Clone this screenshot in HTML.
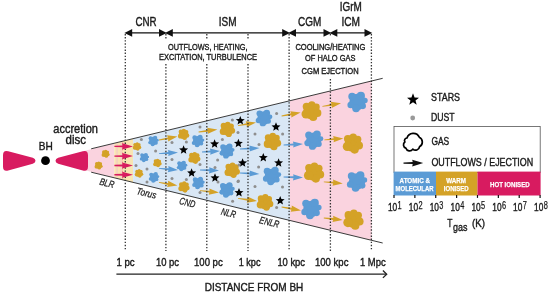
<!DOCTYPE html>
<html lang="en"><head><meta charset="utf-8"><title>AGN feedback scales</title>
<style>html,body{margin:0;padding:0;background:#fff}svg{display:block}</style></head>
<body>
<svg width="550" height="295" viewBox="0 0 550 295" font-family='"Liberation Sans", sans-serif'>
<rect width="550" height="295" fill="#fff"/>
<polygon points="84,151.04 114.3,143.21 114.3,177.81 84,169.95" fill="#FAD3DF"/>
<polygon points="114.3,143.21 133.1,138.67 133.1,182.38 114.3,177.81" fill="#F8E5B2"/>
<polygon points="133.1,138.67 290,100.72 290,220.48 133.1,182.38" fill="#D9E7F5"/>
<polygon points="290,100.72 371.6,80.98 371.6,240.3 290,220.48" fill="#FAD3DF"/>
<rect x="116.3" y="143.23" width="1.5" height="34.57" fill="#F5BFCB" opacity="0.6"/>
<rect x="120.3" y="142.26" width="1.5" height="36.51" fill="#F5BFCB" opacity="0.6"/>
<g fill="#D4A227"><circle cx="105.6" cy="153.8" r="3.3"/><circle cx="103.62" cy="151.9" r="1.57"/><circle cx="105.76" cy="151.25" r="1.52"/><circle cx="107.62" cy="152.07" r="1.4"/><circle cx="108.07" cy="154.54" r="1.61"/><circle cx="106.34" cy="156.19" r="1.65"/><circle cx="103.42" cy="154.95" r="1.85"/></g>
<g fill="#D4A227"><circle cx="98.6" cy="165.5" r="3.3"/><circle cx="96.62" cy="163.6" r="1.57"/><circle cx="98.76" cy="162.95" r="1.52"/><circle cx="100.62" cy="163.77" r="1.4"/><circle cx="101.07" cy="166.24" r="1.61"/><circle cx="99.34" cy="167.89" r="1.65"/><circle cx="96.42" cy="166.65" r="1.85"/></g>
<g fill="#D4A227"><circle cx="137" cy="146.6" r="3.46"/><circle cx="134.92" cy="144.61" r="1.64"/><circle cx="137.17" cy="143.92" r="1.6"/><circle cx="139.12" cy="144.78" r="1.47"/><circle cx="139.6" cy="147.38" r="1.69"/><circle cx="137.78" cy="149.11" r="1.73"/><circle cx="134.71" cy="147.81" r="1.95"/></g>
<g fill="#5B9BD5"><circle cx="153.4" cy="141" r="4.24"/><circle cx="155.15" cy="137.82" r="2.12"/><circle cx="150.59" cy="138.19" r="1.96"/><circle cx="157.32" cy="140.2" r="1.38"/><circle cx="156.21" cy="143.12" r="1.59"/><circle cx="152.66" cy="144.29" r="2.02"/><circle cx="149.85" cy="142.59" r="1.7"/></g>
<g fill="#5B9BD5"><circle cx="144.4" cy="157.6" r="3.75"/><circle cx="145.95" cy="154.78" r="1.88"/><circle cx="141.91" cy="155.11" r="1.74"/><circle cx="147.87" cy="156.9" r="1.22"/><circle cx="146.89" cy="159.48" r="1.41"/><circle cx="143.74" cy="160.51" r="1.78"/><circle cx="141.26" cy="159.01" r="1.5"/></g>
<g fill="#D4A227"><circle cx="157.4" cy="163" r="3.46"/><circle cx="155.32" cy="161.01" r="1.64"/><circle cx="157.57" cy="160.32" r="1.6"/><circle cx="159.52" cy="161.18" r="1.47"/><circle cx="160" cy="163.78" r="1.69"/><circle cx="158.18" cy="165.51" r="1.73"/><circle cx="155.11" cy="164.21" r="1.95"/></g>
<g fill="#D4A227"><circle cx="139" cy="173.4" r="3.46"/><circle cx="136.92" cy="171.41" r="1.64"/><circle cx="139.17" cy="170.72" r="1.6"/><circle cx="141.12" cy="171.58" r="1.47"/><circle cx="141.6" cy="174.18" r="1.69"/><circle cx="139.78" cy="175.91" r="1.73"/><circle cx="136.71" cy="174.61" r="1.95"/></g>
<g fill="#5B9BD5"><circle cx="154" cy="177.4" r="4.24"/><circle cx="155.75" cy="174.22" r="2.12"/><circle cx="151.19" cy="174.59" r="1.96"/><circle cx="157.92" cy="176.6" r="1.38"/><circle cx="156.81" cy="179.52" r="1.59"/><circle cx="153.26" cy="180.69" r="2.02"/><circle cx="150.45" cy="178.99" r="1.7"/></g>
<g fill="#D4A227"><circle cx="183.6" cy="134.4" r="4.61"/><circle cx="180.83" cy="131.75" r="2.19"/><circle cx="183.83" cy="130.82" r="2.13"/><circle cx="186.43" cy="131.98" r="1.96"/><circle cx="187.06" cy="135.44" r="2.25"/><circle cx="184.64" cy="137.75" r="2.31"/><circle cx="180.54" cy="136.02" r="2.6"/></g>
<g fill="#5B9BD5"><circle cx="198" cy="141" r="5.06"/><circle cx="200.09" cy="137.21" r="2.53"/><circle cx="194.65" cy="137.65" r="2.34"/><circle cx="202.68" cy="140.05" r="1.64"/><circle cx="201.35" cy="143.53" r="1.9"/><circle cx="197.11" cy="144.92" r="2.4"/><circle cx="193.76" cy="142.9" r="2.02"/></g>
<g fill="#D4A227"><circle cx="194.4" cy="158" r="4.94"/><circle cx="191.43" cy="155.16" r="2.35"/><circle cx="194.65" cy="154.17" r="2.29"/><circle cx="197.43" cy="155.4" r="2.1"/><circle cx="198.11" cy="159.11" r="2.41"/><circle cx="195.51" cy="161.58" r="2.47"/><circle cx="191.12" cy="159.73" r="2.78"/></g>
<g fill="#5B9BD5"><circle cx="182" cy="166" r="4.24"/><circle cx="183.75" cy="162.82" r="2.12"/><circle cx="179.19" cy="163.19" r="1.96"/><circle cx="185.92" cy="165.2" r="1.38"/><circle cx="184.81" cy="168.12" r="1.59"/><circle cx="181.26" cy="169.29" r="2.02"/><circle cx="178.45" cy="167.59" r="1.7"/></g>
<g fill="#D4A227"><circle cx="184" cy="187" r="4.61"/><circle cx="181.23" cy="184.35" r="2.19"/><circle cx="184.23" cy="183.42" r="2.13"/><circle cx="186.83" cy="184.58" r="1.96"/><circle cx="187.46" cy="188.04" r="2.25"/><circle cx="185.04" cy="190.35" r="2.31"/><circle cx="180.94" cy="188.62" r="2.6"/></g>
<g fill="#5B9BD5"><circle cx="198.4" cy="183" r="5.06"/><circle cx="200.49" cy="179.21" r="2.53"/><circle cx="195.05" cy="179.65" r="2.34"/><circle cx="203.08" cy="182.05" r="1.64"/><circle cx="201.75" cy="185.53" r="1.9"/><circle cx="197.51" cy="186.92" r="2.4"/><circle cx="194.16" cy="184.9" r="2.02"/></g>
<g fill="#D4A227"><circle cx="227.4" cy="129.4" r="6.26"/><circle cx="223.64" cy="125.8" r="2.97"/><circle cx="227.71" cy="124.55" r="2.9"/><circle cx="231.24" cy="126.11" r="2.66"/><circle cx="232.1" cy="130.81" r="3.05"/><circle cx="228.81" cy="133.94" r="3.13"/><circle cx="223.25" cy="131.59" r="3.52"/></g>
<g fill="#5B9BD5"><circle cx="227" cy="151" r="6.04"/><circle cx="229.49" cy="146.47" r="3.02"/><circle cx="223" cy="147" r="2.79"/><circle cx="232.59" cy="149.87" r="1.96"/><circle cx="231" cy="154.02" r="2.26"/><circle cx="225.94" cy="155.68" r="2.87"/><circle cx="221.94" cy="153.26" r="2.42"/></g>
<g fill="#D4A227"><circle cx="232.2" cy="170.3" r="6.26"/><circle cx="228.44" cy="166.7" r="2.97"/><circle cx="232.51" cy="165.45" r="2.9"/><circle cx="236.04" cy="167.01" r="2.66"/><circle cx="236.9" cy="171.71" r="3.05"/><circle cx="233.61" cy="174.84" r="3.13"/><circle cx="228.05" cy="172.49" r="3.52"/></g>
<g fill="#5B9BD5"><circle cx="227" cy="190" r="6.2"/><circle cx="229.56" cy="185.35" r="3.1"/><circle cx="222.89" cy="185.89" r="2.87"/><circle cx="232.74" cy="188.84" r="2.02"/><circle cx="231.11" cy="193.1" r="2.33"/><circle cx="225.91" cy="194.81" r="2.95"/><circle cx="221.81" cy="192.33" r="2.48"/></g>
<g fill="#5B9BD5"><circle cx="264" cy="118" r="6.69"/><circle cx="266.76" cy="112.98" r="3.35"/><circle cx="259.57" cy="113.57" r="3.09"/><circle cx="270.19" cy="116.75" r="2.17"/><circle cx="268.43" cy="121.35" r="2.51"/><circle cx="262.83" cy="123.19" r="3.18"/><circle cx="258.4" cy="120.51" r="2.68"/></g>
<g fill="#D4A227"><circle cx="272.4" cy="141.6" r="7.09"/><circle cx="268.15" cy="137.53" r="3.37"/><circle cx="272.75" cy="136.11" r="3.28"/><circle cx="276.74" cy="137.88" r="3.01"/><circle cx="277.71" cy="143.19" r="3.45"/><circle cx="273.99" cy="146.74" r="3.54"/><circle cx="267.71" cy="144.08" r="3.99"/></g>
<g fill="#5B9BD5"><circle cx="272" cy="176" r="7.34"/><circle cx="275.03" cy="170.49" r="3.67"/><circle cx="267.13" cy="171.13" r="3.4"/><circle cx="278.79" cy="174.62" r="2.39"/><circle cx="276.87" cy="179.67" r="2.75"/><circle cx="270.71" cy="181.69" r="3.49"/><circle cx="265.85" cy="178.75" r="2.94"/></g>
<g fill="#D4A227"><circle cx="265" cy="202.4" r="6.76"/><circle cx="260.95" cy="198.51" r="3.21"/><circle cx="265.34" cy="197.16" r="3.13"/><circle cx="269.14" cy="198.85" r="2.87"/><circle cx="270.07" cy="203.92" r="3.29"/><circle cx="266.52" cy="207.3" r="3.38"/><circle cx="260.52" cy="204.76" r="3.8"/></g>
<g fill="#D4A227"><circle cx="311.4" cy="111.2" r="8.08"/><circle cx="306.55" cy="106.56" r="3.84"/><circle cx="311.8" cy="104.94" r="3.73"/><circle cx="316.35" cy="106.96" r="3.43"/><circle cx="317.46" cy="113.02" r="3.94"/><circle cx="313.22" cy="117.05" r="4.04"/><circle cx="306.05" cy="114.03" r="4.54"/></g>
<g fill="#5B9BD5"><circle cx="313.8" cy="140.2" r="7.67"/><circle cx="316.96" cy="134.45" r="3.84"/><circle cx="308.72" cy="135.12" r="3.55"/><circle cx="320.9" cy="138.76" r="2.49"/><circle cx="318.88" cy="144.04" r="2.88"/><circle cx="312.46" cy="146.14" r="3.64"/><circle cx="307.38" cy="143.08" r="3.07"/></g>
<g fill="#D4A227"><circle cx="314" cy="172.6" r="8.24"/><circle cx="309.06" cy="167.86" r="3.91"/><circle cx="314.41" cy="166.21" r="3.81"/><circle cx="319.05" cy="168.27" r="3.5"/><circle cx="320.18" cy="174.45" r="4.02"/><circle cx="315.85" cy="178.57" r="4.12"/><circle cx="308.54" cy="175.48" r="4.64"/></g>
<g fill="#5B9BD5"><circle cx="311.4" cy="209" r="8.16"/><circle cx="314.77" cy="202.88" r="4.08"/><circle cx="305.99" cy="203.59" r="3.77"/><circle cx="318.95" cy="207.47" r="2.65"/><circle cx="316.81" cy="213.08" r="3.06"/><circle cx="309.97" cy="215.32" r="3.88"/><circle cx="304.57" cy="212.06" r="3.26"/></g>
<g fill="#5B9BD5"><circle cx="357.5" cy="102" r="8.16"/><circle cx="360.87" cy="95.88" r="4.08"/><circle cx="352.09" cy="96.59" r="3.77"/><circle cx="365.05" cy="100.47" r="2.65"/><circle cx="362.91" cy="106.08" r="3.06"/><circle cx="356.07" cy="108.32" r="3.88"/><circle cx="350.67" cy="105.06" r="3.26"/></g>
<g fill="#D4A227"><circle cx="352.8" cy="143.6" r="8.24"/><circle cx="347.86" cy="138.86" r="3.91"/><circle cx="353.21" cy="137.21" r="3.81"/><circle cx="357.85" cy="139.27" r="3.5"/><circle cx="358.98" cy="145.45" r="4.02"/><circle cx="354.65" cy="149.57" r="4.12"/><circle cx="347.34" cy="146.48" r="4.64"/></g>
<g fill="#5B9BD5"><circle cx="357" cy="181.5" r="8.16"/><circle cx="360.37" cy="175.38" r="4.08"/><circle cx="351.59" cy="176.09" r="3.77"/><circle cx="364.55" cy="179.97" r="2.65"/><circle cx="362.41" cy="185.58" r="3.06"/><circle cx="355.57" cy="187.82" r="3.88"/><circle cx="350.17" cy="184.56" r="3.26"/></g>
<g fill="#D4A227"><circle cx="353.4" cy="219.7" r="8.24"/><circle cx="348.46" cy="214.96" r="3.91"/><circle cx="353.81" cy="213.31" r="3.81"/><circle cx="358.45" cy="215.37" r="3.5"/><circle cx="359.58" cy="221.55" r="4.02"/><circle cx="355.25" cy="225.67" r="4.12"/><circle cx="347.94" cy="222.58" r="4.64"/></g>
<polygon transform="translate(159 140) rotate(-10.47)" points="0,-0.4 9.21,-0.95 8.71,-3.1 18.71,0 8.71,3.1 9.21,0.95 0,0.4" fill="#D4A227"/>
<polygon transform="translate(159 153.6) rotate(-3.61)" points="0,-0.4 9.54,-0.95 9.04,-3.1 19.04,0 9.04,3.1 9.54,0.95 0,0.4" fill="#5B9BD5"/>
<polygon transform="translate(159 168.4) rotate(4.81)" points="0,-0.4 9.57,-0.95 9.07,-3.1 19.07,0 9.07,3.1 9.57,0.95 0,0.4" fill="#5B9BD5"/>
<polygon transform="translate(159 182.4) rotate(9.87)" points="0,-0.4 9.18,-0.95 8.68,-3.1 18.68,0 8.68,3.1 9.18,0.95 0,0.4" fill="#D4A227"/>
<polygon transform="translate(198.6 132) rotate(-7.87)" points="0,-0.4 9.48,-0.95 8.98,-3.1 18.98,0 8.98,3.1 9.48,0.95 0,0.4" fill="#D4A227"/>
<polygon transform="translate(202 152) rotate(-3.18)" points="0,-0.4 8.53,-0.95 8.03,-3.1 18.03,0 8.03,3.1 8.53,0.95 0,0.4" fill="#5B9BD5"/>
<polygon transform="translate(200 170) rotate(1.81)" points="0,-0.4 9.51,-0.95 9.01,-3.1 19.01,0 9.01,3.1 9.51,0.95 0,0.4" fill="#5B9BD5"/>
<polygon transform="translate(200 190.6) rotate(6.01)" points="0,-0.4 9.6,-0.95 9.1,-3.1 19.1,0 9.1,3.1 9.6,0.95 0,0.4" fill="#D4A227"/>
<polygon transform="translate(238 125.6) rotate(-9.46)" points="0,-0.4 8.75,-0.95 8.25,-3.1 18.25,0 8.25,3.1 8.75,0.95 0,0.4" fill="#D4A227"/>
<polygon transform="translate(240 149) rotate(-2.95)" points="0,-0.4 9.93,-0.95 9.43,-3.1 19.43,0 9.43,3.1 9.93,0.95 0,0.4" fill="#5B9BD5"/>
<polygon transform="translate(240 173) rotate(2.95)" points="0,-0.4 9.93,-0.95 9.43,-3.1 19.43,0 9.43,3.1 9.93,0.95 0,0.4" fill="#5B9BD5"/>
<polygon transform="translate(238 198.4) rotate(7.79)" points="0,-0.4 9.68,-0.95 9.18,-3.1 19.18,0 9.18,3.1 9.68,0.95 0,0.4" fill="#D4A227"/>
<polygon transform="translate(281.6 116) rotate(-10.15)" points="0,-0.4 9.8,-0.95 9.3,-3.1 19.3,0 9.3,3.1 9.8,0.95 0,0.4" fill="#D4A227"/>
<polygon transform="translate(283.6 145) rotate(-2.95)" points="0,-0.4 9.93,-0.95 9.43,-3.1 19.43,0 9.43,3.1 9.93,0.95 0,0.4" fill="#5B9BD5"/>
<polygon transform="translate(283.6 177) rotate(1.77)" points="0,-0.4 9.91,-0.95 9.41,-3.1 19.41,0 9.41,3.1 9.91,0.95 0,0.4" fill="#5B9BD5"/>
<polygon transform="translate(281.6 207) rotate(9.94)" points="0,-0.4 10.2,-0.95 9.7,-3.1 19.7,0 9.7,3.1 10.2,0.95 0,0.4" fill="#D4A227"/>
<polygon transform="translate(322.4 106.4) rotate(-9.76)" points="0,-0.4 9.37,-0.95 8.87,-3.1 18.87,0 8.87,3.1 9.37,0.95 0,0.4" fill="#D4A227"/>
<polygon transform="translate(324.4 139.8) rotate(-4.24)" points="0,-0.4 9.45,-0.95 8.95,-3.1 18.95,0 8.95,3.1 9.45,0.95 0,0.4" fill="#D4A227"/>
<polygon transform="translate(323.8 181.8) rotate(4.84)" points="0,-0.4 9.47,-0.95 8.97,-3.1 18.97,0 8.97,3.1 9.47,0.95 0,0.4" fill="#D4A227"/>
<polygon transform="translate(323.8 218) rotate(6.04)" points="0,-0.4 9.51,-0.95 9.01,-3.1 19.01,0 9.01,3.1 9.51,0.95 0,0.4" fill="#D4A227"/>
<polygon points="183.6,145.3 184.82,148.33 188.07,148.55 185.57,150.64 186.36,153.8 183.6,152.07 180.84,153.8 181.63,150.64 179.13,148.55 182.38,148.33" fill="#000"/>
<polygon points="214.6,139.3 215.82,142.33 219.07,142.55 216.57,144.64 217.36,147.8 214.6,146.07 211.84,147.8 212.63,144.64 210.13,142.55 213.38,142.33" fill="#000"/>
<polygon points="240.3,115.9 241.52,118.93 244.77,119.15 242.27,121.24 243.06,124.4 240.3,122.67 237.54,124.4 238.33,121.24 235.83,119.15 239.08,118.93" fill="#000"/>
<polygon points="238.4,138.7 239.62,141.73 242.87,141.95 240.37,144.04 241.16,147.2 238.4,145.47 235.64,147.2 236.43,144.04 233.93,141.95 237.18,141.73" fill="#000"/>
<polygon points="191.6,168.3 192.82,171.33 196.07,171.55 193.57,173.64 194.36,176.8 191.6,175.07 188.84,176.8 189.63,173.64 187.13,171.55 190.38,171.33" fill="#000"/>
<polygon points="215,173.3 216.22,176.33 219.47,176.55 216.97,178.64 217.76,181.8 215,180.07 212.24,181.8 213.03,178.64 210.53,176.55 213.78,176.33" fill="#000"/>
<polygon points="239,187.9 240.22,190.93 243.47,191.15 240.97,193.24 241.76,196.4 239,194.67 236.24,196.4 237.03,193.24 234.53,191.15 237.78,190.93" fill="#000"/>
<polygon points="242.6,158.3 243.82,161.33 247.07,161.55 244.57,163.64 245.36,166.8 242.6,165.07 239.84,166.8 240.63,163.64 238.13,161.55 241.38,161.33" fill="#000"/>
<polygon points="263.3,153 264.52,156.03 267.77,156.25 265.27,158.34 266.06,161.5 263.3,159.77 260.54,161.5 261.33,158.34 258.83,156.25 262.08,156.03" fill="#000"/>
<polygon points="278.6,158.2 279.82,161.23 283.07,161.45 280.57,163.54 281.36,166.7 278.6,164.97 275.84,166.7 276.63,163.54 274.13,161.45 277.38,161.23" fill="#000"/>
<polygon points="276,122.3 277.22,125.33 280.47,125.55 277.97,127.64 278.76,130.8 276,129.07 273.24,130.8 274.03,127.64 271.53,125.55 274.78,125.33" fill="#000"/>
<polygon points="280.2,195.9 281.42,198.93 284.67,199.15 282.17,201.24 282.96,204.4 280.2,202.67 277.44,204.4 278.23,201.24 275.73,199.15 278.98,198.93" fill="#000"/>
<circle cx="141.4" cy="139.6" r="1.5" fill="#8E8E8E"/>
<circle cx="138" cy="153.6" r="1.5" fill="#8E8E8E"/>
<circle cx="155.6" cy="151" r="1.5" fill="#8E8E8E"/>
<circle cx="172" cy="142.6" r="1.5" fill="#8E8E8E"/>
<circle cx="186.4" cy="142" r="1.5" fill="#8E8E8E"/>
<circle cx="200" cy="127" r="1.5" fill="#8E8E8E"/>
<circle cx="222.4" cy="139.6" r="1.5" fill="#8E8E8E"/>
<circle cx="232.4" cy="120" r="1.5" fill="#8E8E8E"/>
<circle cx="238" cy="132.4" r="1.5" fill="#8E8E8E"/>
<circle cx="136" cy="165.6" r="1.5" fill="#8E8E8E"/>
<circle cx="147" cy="169" r="1.5" fill="#8E8E8E"/>
<circle cx="147" cy="182" r="1.5" fill="#8E8E8E"/>
<circle cx="172" cy="159.6" r="1.5" fill="#8E8E8E"/>
<circle cx="172" cy="178.6" r="1.5" fill="#8E8E8E"/>
<circle cx="186.4" cy="179.4" r="1.5" fill="#8E8E8E"/>
<circle cx="200" cy="164.4" r="1.5" fill="#8E8E8E"/>
<circle cx="200" cy="192.6" r="1.5" fill="#8E8E8E"/>
<circle cx="217.6" cy="160" r="1.5" fill="#8E8E8E"/>
<circle cx="215" cy="167.6" r="1.5" fill="#8E8E8E"/>
<circle cx="218" cy="182" r="1.5" fill="#8E8E8E"/>
<circle cx="239" cy="165" r="1.5" fill="#8E8E8E"/>
<circle cx="238" cy="181.4" r="1.5" fill="#8E8E8E"/>
<circle cx="232.6" cy="201.3" r="1.5" fill="#8E8E8E"/>
<circle cx="255" cy="134" r="1.5" fill="#8E8E8E"/>
<circle cx="276.6" cy="113.6" r="1.5" fill="#8E8E8E"/>
<circle cx="282.6" cy="134" r="1.5" fill="#8E8E8E"/>
<circle cx="259" cy="144.4" r="1.5" fill="#8E8E8E"/>
<circle cx="258.6" cy="167" r="1.5" fill="#8E8E8E"/>
<circle cx="238.4" cy="181" r="1.5" fill="#8E8E8E"/>
<circle cx="255" cy="186.5" r="1.5" fill="#8E8E8E"/>
<circle cx="282.5" cy="187" r="1.5" fill="#8E8E8E"/>
<circle cx="276.6" cy="207.6" r="1.5" fill="#8E8E8E"/>
<line x1="125.3" y1="34" x2="125.3" y2="251" stroke="#333" stroke-width="1.3" stroke-dasharray="1.4 1.7"/>
<line x1="165.9" y1="34" x2="165.9" y2="39" stroke="#333" stroke-width="1.3" stroke-dasharray="1.4 1.7"/>
<line x1="165.9" y1="64" x2="165.9" y2="251" stroke="#333" stroke-width="1.3" stroke-dasharray="1.4 1.7"/>
<line x1="206.8" y1="34" x2="206.8" y2="39" stroke="#333" stroke-width="1.3" stroke-dasharray="1.4 1.7"/>
<line x1="206.8" y1="64" x2="206.8" y2="251" stroke="#333" stroke-width="1.3" stroke-dasharray="1.4 1.7"/>
<line x1="248" y1="34" x2="248" y2="39" stroke="#333" stroke-width="1.3" stroke-dasharray="1.4 1.7"/>
<line x1="248" y1="64" x2="248" y2="251" stroke="#333" stroke-width="1.3" stroke-dasharray="1.4 1.7"/>
<line x1="289.1" y1="34" x2="289.1" y2="251" stroke="#333" stroke-width="1.3" stroke-dasharray="1.4 1.7"/>
<line x1="330.4" y1="34" x2="330.4" y2="36.5" stroke="#333" stroke-width="1.3" stroke-dasharray="1.4 1.7"/>
<line x1="330.4" y1="79" x2="330.4" y2="251" stroke="#333" stroke-width="1.3" stroke-dasharray="1.4 1.7"/>
<line x1="371.4" y1="34" x2="371.4" y2="251" stroke="#333" stroke-width="1.3" stroke-dasharray="1.4 1.7"/>
<polygon points="122.3,141.7 123.8,146.4 122.3,151.1" fill="#D81B60" opacity="0.8"/>
<polygon transform="translate(114.4 146.4) rotate(0)" points="0,-0.7 8.4,-0.95 7.9,-3.05 18.6,0 7.9,3.05 8.4,0.95 0,0.7" fill="#D81B60"/>
<polygon points="122.3,151.4 123.8,156.1 122.3,160.8" fill="#D81B60" opacity="0.8"/>
<polygon transform="translate(114.4 156.1) rotate(0)" points="0,-0.7 8.4,-0.95 7.9,-3.05 18.6,0 7.9,3.05 8.4,0.95 0,0.7" fill="#D81B60"/>
<polygon points="122.3,160.8 123.8,165.5 122.3,170.2" fill="#D81B60" opacity="0.8"/>
<polygon transform="translate(114.4 165.5) rotate(0)" points="0,-0.7 8.4,-0.95 7.9,-3.05 18.6,0 7.9,3.05 8.4,0.95 0,0.7" fill="#D81B60"/>
<polygon points="122.3,170.1 123.8,174.8 122.3,179.5" fill="#D81B60" opacity="0.8"/>
<polygon transform="translate(114.4 174.8) rotate(0)" points="0,-0.7 8.4,-0.95 7.9,-3.05 18.6,0 7.9,3.05 8.4,0.95 0,0.7" fill="#D81B60"/>
<line x1="91.2" y1="148.8" x2="382.7" y2="78.3" stroke="#303030" stroke-width="0.95"/>
<line x1="91.2" y1="172.2" x2="382.7" y2="243" stroke="#303030" stroke-width="0.95"/>
<path d="M8.2,151.2 Q3,149.8 3,155.2 L3,166.4 Q3,171.8 8.2,170.4 L32.8,163.8 Q35.5,163 35.5,160.8 Q35.5,158.6 32.8,157.8 Z" fill="#D81B60"/>
<path d="M8.2,151.2 Q3,149.8 3,155.2 L3,166.4 Q3,171.8 8.2,170.4 L32.8,163.8 Q35.5,163 35.5,160.8 Q35.5,158.6 32.8,157.8 Z" fill="#D81B60" transform="translate(91 0) scale(-1 1)"/>
<circle cx="45.5" cy="160.7" r="4.4" fill="#000"/>
<line x1="127.4" y1="32.9" x2="163.8" y2="32.9" stroke="#111" stroke-width="1.4"/>
<polygon points="124.4,32.9 132.2,29.0 132.2,36.8" fill="#111"/>
<polygon points="166.8,32.9 159,29.0 159,36.8" fill="#111"/>
<line x1="168" y1="32.9" x2="287" y2="32.9" stroke="#111" stroke-width="1.4"/>
<polygon points="165,32.9 172.8,29.0 172.8,36.8" fill="#111"/>
<polygon points="290,32.9 282.2,29.0 282.2,36.8" fill="#111"/>
<line x1="291.2" y1="32.9" x2="328.3" y2="32.9" stroke="#111" stroke-width="1.4"/>
<polygon points="288.2,32.9 296,29.0 296,36.8" fill="#111"/>
<polygon points="331.3,32.9 323.5,29.0 323.5,36.8" fill="#111"/>
<line x1="332.5" y1="32.9" x2="369.3" y2="32.9" stroke="#111" stroke-width="1.4"/>
<polygon points="329.5,32.9 337.3,29.0 337.3,36.8" fill="#111"/>
<polygon points="372.3,32.9 364.5,29.0 364.5,36.8" fill="#111"/>
<text x="135.4" y="26.2" font-size="12.3" font-weight="normal" font-style="normal" fill="#1a1a1a" stroke="#1a1a1a" stroke-width="0.4" textLength="21.2" lengthAdjust="spacingAndGlyphs" >CNR</text>
<text x="218.7" y="26.2" font-size="12.3" font-weight="normal" font-style="normal" fill="#1a1a1a" stroke="#1a1a1a" stroke-width="0.4" textLength="17.8" lengthAdjust="spacingAndGlyphs" >ISM</text>
<text x="298" y="26.2" font-size="12.3" font-weight="normal" font-style="normal" fill="#1a1a1a" stroke="#1a1a1a" stroke-width="0.4" textLength="23.3" lengthAdjust="spacingAndGlyphs" >CGM</text>
<text x="341.4" y="26.2" font-size="12.3" font-weight="normal" font-style="normal" fill="#1a1a1a" stroke="#1a1a1a" stroke-width="0.4" textLength="18.6" lengthAdjust="spacingAndGlyphs" >ICM</text>
<text x="339.8" y="11.3" font-size="12.3" font-weight="normal" font-style="normal" fill="#1a1a1a" stroke="#1a1a1a" stroke-width="0.4" textLength="22.1" lengthAdjust="spacingAndGlyphs" >IGrM</text>
<text x="168" y="50.2" font-size="9.5" font-weight="normal" font-style="normal" fill="#1a1a1a" stroke="#1a1a1a" stroke-width="0.4" textLength="79.6" lengthAdjust="spacingAndGlyphs" >OUTFLOWS, HEATING,</text>
<text x="159" y="60.3" font-size="9.5" font-weight="normal" font-style="normal" fill="#1a1a1a" stroke="#1a1a1a" stroke-width="0.4" textLength="98" lengthAdjust="spacingAndGlyphs" >EXCITATION, TURBULENCE</text>
<text x="295.4" y="50.4" font-size="9.5" font-weight="normal" font-style="normal" fill="#1a1a1a" stroke="#1a1a1a" stroke-width="0.4" textLength="70" lengthAdjust="spacingAndGlyphs" >COOLING/HEATING</text>
<text x="305" y="60.5" font-size="9.5" font-weight="normal" font-style="normal" fill="#1a1a1a" stroke="#1a1a1a" stroke-width="0.4" textLength="50.4" lengthAdjust="spacingAndGlyphs" >OF HALO GAS</text>
<text x="301.6" y="73.9" font-size="9.5" font-weight="normal" font-style="normal" fill="#1a1a1a" stroke="#1a1a1a" stroke-width="0.4" textLength="57" lengthAdjust="spacingAndGlyphs" >CGM EJECTION</text>
<text x="38.8" y="149.5" font-size="11" font-weight="normal" font-style="normal" fill="#1a1a1a" stroke="#1a1a1a" stroke-width="0.4" textLength="14" lengthAdjust="spacingAndGlyphs" >BH</text>
<text x="53.3" y="133.2" font-size="12.3" font-weight="normal" font-style="normal" fill="#1a1a1a" stroke="#1a1a1a" stroke-width="0.4" textLength="44.7" lengthAdjust="spacingAndGlyphs" >accretion</text>
<text x="65.5" y="144.2" font-size="12.3" font-weight="normal" font-style="normal" fill="#1a1a1a" stroke="#1a1a1a" stroke-width="0.4" textLength="20.5" lengthAdjust="spacingAndGlyphs" >disc</text>
<text x="116.4" y="266" font-size="11" font-weight="normal" font-style="normal" fill="#1a1a1a" stroke="#1a1a1a" stroke-width="0.4" textLength="18.2" lengthAdjust="spacingAndGlyphs" >1 pc</text>
<text x="155.9" y="266" font-size="11" font-weight="normal" font-style="normal" fill="#1a1a1a" stroke="#1a1a1a" stroke-width="0.4" textLength="23.1" lengthAdjust="spacingAndGlyphs" >10 pc</text>
<text x="194" y="266" font-size="11" font-weight="normal" font-style="normal" fill="#1a1a1a" stroke="#1a1a1a" stroke-width="0.4" textLength="28.7" lengthAdjust="spacingAndGlyphs" >100 pc</text>
<text x="238.7" y="266" font-size="11" font-weight="normal" font-style="normal" fill="#1a1a1a" stroke="#1a1a1a" stroke-width="0.4" textLength="21.8" lengthAdjust="spacingAndGlyphs" >1 kpc</text>
<text x="277.4" y="266" font-size="11" font-weight="normal" font-style="normal" fill="#1a1a1a" stroke="#1a1a1a" stroke-width="0.4" textLength="27.6" lengthAdjust="spacingAndGlyphs" >10 kpc</text>
<text x="315" y="266" font-size="11" font-weight="normal" font-style="normal" fill="#1a1a1a" stroke="#1a1a1a" stroke-width="0.4" textLength="33.4" lengthAdjust="spacingAndGlyphs" >100 kpc</text>
<text x="360" y="266" font-size="11" font-weight="normal" font-style="normal" fill="#1a1a1a" stroke="#1a1a1a" stroke-width="0.4" textLength="25.6" lengthAdjust="spacingAndGlyphs" >1 Mpc</text>
<line x1="116.4" y1="274.2" x2="386.2" y2="274.2" stroke="#222" stroke-width="1.3"/>
<polyline points="382.9,270.5 386.7,274.2 382.9,277.9" fill="none" stroke="#222" stroke-width="1.3" stroke-linejoin="miter"/>
<text x="204.7" y="290.8" font-size="11" font-weight="normal" font-style="normal" fill="#1a1a1a" stroke="#1a1a1a" stroke-width="0.4" textLength="98.6" lengthAdjust="spacingAndGlyphs" >DISTANCE FROM BH</text>
<text transform="translate(107 183) rotate(14)" x="-7.5" y="3.5" font-size="9.8" font-style="italic" fill="#1a1a1a" stroke="#1a1a1a" stroke-width="0.25" textLength="15" lengthAdjust="spacingAndGlyphs">BLR</text>
<text transform="translate(146.5 193) rotate(14)" x="-10" y="3.5" font-size="9.8" font-style="italic" fill="#1a1a1a" stroke="#1a1a1a" stroke-width="0.25" textLength="20" lengthAdjust="spacingAndGlyphs">Torus</text>
<text transform="translate(187.4 202.4) rotate(14)" x="-8" y="3.5" font-size="9.8" font-style="italic" fill="#1a1a1a" stroke="#1a1a1a" stroke-width="0.25" textLength="16" lengthAdjust="spacingAndGlyphs">CND</text>
<text transform="translate(228.7 212.8) rotate(14)" x="-7.5" y="3.5" font-size="9.8" font-style="italic" fill="#1a1a1a" stroke="#1a1a1a" stroke-width="0.25" textLength="15" lengthAdjust="spacingAndGlyphs">NLR</text>
<text transform="translate(269.4 222) rotate(14)" x="-10" y="3.5" font-size="9.8" font-style="italic" fill="#1a1a1a" stroke="#1a1a1a" stroke-width="0.25" textLength="20" lengthAdjust="spacingAndGlyphs">ENLR</text>
<polygon points="413,93.3 414.56,97.46 418.99,97.65 415.52,100.42 416.7,104.7 413,102.25 409.3,104.7 410.48,100.42 407.01,97.65 411.44,97.46" fill="#000"/>
<text x="431" y="101" font-size="10.8" font-weight="normal" font-style="normal" fill="#1a1a1a" stroke="#1a1a1a" stroke-width="0.4" textLength="29" lengthAdjust="spacingAndGlyphs" >STARS</text>
<circle cx="412.7" cy="118" r="2.4" fill="#999"/>
<text x="431" y="121" font-size="10.8" font-weight="normal" font-style="normal" fill="#1a1a1a" stroke="#1a1a1a" stroke-width="0.4" textLength="23.6" lengthAdjust="spacingAndGlyphs" >DUST</text>
<rect x="394" y="126.4" width="146.2" height="46" fill="#fff" stroke="#555" stroke-width="0.8"/>
<path d="M407.0,138.0 A6.6,6.6 0 0 1 419.3,137.2 A5.4,5.4 0 0 1 419.5,146.8 A4.0,4.0 0 0 1 412.8,149.1 A3.9,3.9 0 0 1 405.8,148.1 A3.5,3.5 0 0 1 404.9,142.0 A2.6,2.6 0 0 1 407.0,138.0 Z" fill="#fff" stroke="#000" stroke-width="1.7" stroke-linejoin="round"/>
<text x="431.4" y="145.3" font-size="10.8" font-weight="normal" font-style="normal" fill="#1a1a1a" stroke="#1a1a1a" stroke-width="0.4" textLength="17.8" lengthAdjust="spacingAndGlyphs" >GAS</text>
<polygon transform="translate(403.5 163.1) rotate(0)" points="0,-0.55 9.2,-1 8.7,-3.4 19.7,0 8.7,3.4 9.2,1 0,0.55" fill="#111"/>
<text x="431.4" y="165.9" font-size="10.8" font-weight="normal" font-style="normal" fill="#1a1a1a" stroke="#1a1a1a" stroke-width="0.4" textLength="101.8" lengthAdjust="spacingAndGlyphs" >OUTFLOWS / EJECTION</text>
<rect x="393.6" y="171.6" width="42.4" height="23.9" fill="#5B9BD5"/>
<rect x="436" y="171.6" width="41.5" height="23.9" fill="#D4A227"/>
<rect x="477.5" y="171.6" width="63.1" height="23.9" fill="#D81B60"/>
<line x1="394" y1="195" x2="394" y2="197.9" stroke="#111" stroke-width="1.2"/>
<text x="387.9" y="210.5" font-size="11.2" font-weight="normal" font-style="normal" fill="#1a1a1a" stroke="#1a1a1a" stroke-width="0.4" textLength="9.3" lengthAdjust="spacingAndGlyphs" >10</text>
<text x="397.6" y="208.5" font-size="10" fill="#1a1a1a" stroke="#1a1a1a" stroke-width="0.25" textLength="4.1" lengthAdjust="spacingAndGlyphs">1</text>
<line x1="414.87" y1="195" x2="414.87" y2="197.9" stroke="#111" stroke-width="1.2"/>
<text x="408.77" y="210.5" font-size="11.2" font-weight="normal" font-style="normal" fill="#1a1a1a" stroke="#1a1a1a" stroke-width="0.4" textLength="9.3" lengthAdjust="spacingAndGlyphs" >10</text>
<text x="418.47" y="208.5" font-size="10" fill="#1a1a1a" stroke="#1a1a1a" stroke-width="0.25" textLength="4.1" lengthAdjust="spacingAndGlyphs">2</text>
<line x1="435.74" y1="195" x2="435.74" y2="197.9" stroke="#111" stroke-width="1.2"/>
<text x="429.64" y="210.5" font-size="11.2" font-weight="normal" font-style="normal" fill="#1a1a1a" stroke="#1a1a1a" stroke-width="0.4" textLength="9.3" lengthAdjust="spacingAndGlyphs" >10</text>
<text x="439.34" y="208.5" font-size="10" fill="#1a1a1a" stroke="#1a1a1a" stroke-width="0.25" textLength="4.1" lengthAdjust="spacingAndGlyphs">3</text>
<line x1="456.61" y1="195" x2="456.61" y2="197.9" stroke="#111" stroke-width="1.2"/>
<text x="450.51" y="210.5" font-size="11.2" font-weight="normal" font-style="normal" fill="#1a1a1a" stroke="#1a1a1a" stroke-width="0.4" textLength="9.3" lengthAdjust="spacingAndGlyphs" >10</text>
<text x="460.21" y="208.5" font-size="10" fill="#1a1a1a" stroke="#1a1a1a" stroke-width="0.25" textLength="4.1" lengthAdjust="spacingAndGlyphs">4</text>
<line x1="477.48" y1="195" x2="477.48" y2="197.9" stroke="#111" stroke-width="1.2"/>
<text x="471.38" y="210.5" font-size="11.2" font-weight="normal" font-style="normal" fill="#1a1a1a" stroke="#1a1a1a" stroke-width="0.4" textLength="9.3" lengthAdjust="spacingAndGlyphs" >10</text>
<text x="481.08" y="208.5" font-size="10" fill="#1a1a1a" stroke="#1a1a1a" stroke-width="0.25" textLength="4.1" lengthAdjust="spacingAndGlyphs">5</text>
<line x1="498.35" y1="195" x2="498.35" y2="197.9" stroke="#111" stroke-width="1.2"/>
<text x="492.25" y="210.5" font-size="11.2" font-weight="normal" font-style="normal" fill="#1a1a1a" stroke="#1a1a1a" stroke-width="0.4" textLength="9.3" lengthAdjust="spacingAndGlyphs" >10</text>
<text x="501.95" y="208.5" font-size="10" fill="#1a1a1a" stroke="#1a1a1a" stroke-width="0.25" textLength="4.1" lengthAdjust="spacingAndGlyphs">6</text>
<line x1="519.22" y1="195" x2="519.22" y2="197.9" stroke="#111" stroke-width="1.2"/>
<text x="513.12" y="210.5" font-size="11.2" font-weight="normal" font-style="normal" fill="#1a1a1a" stroke="#1a1a1a" stroke-width="0.4" textLength="9.3" lengthAdjust="spacingAndGlyphs" >10</text>
<text x="522.82" y="208.5" font-size="10" fill="#1a1a1a" stroke="#1a1a1a" stroke-width="0.25" textLength="4.1" lengthAdjust="spacingAndGlyphs">7</text>
<line x1="540.09" y1="195" x2="540.09" y2="197.9" stroke="#111" stroke-width="1.2"/>
<text x="533.99" y="210.5" font-size="11.2" font-weight="normal" font-style="normal" fill="#1a1a1a" stroke="#1a1a1a" stroke-width="0.4" textLength="9.3" lengthAdjust="spacingAndGlyphs" >10</text>
<text x="543.69" y="208.5" font-size="10" fill="#1a1a1a" stroke="#1a1a1a" stroke-width="0.25" textLength="4.1" lengthAdjust="spacingAndGlyphs">8</text>
<text x="399.6" y="182.5" font-size="7.2" font-weight="bold" font-style="normal" fill="#fff" stroke="#fff" stroke-width="0.25" textLength="30.4" lengthAdjust="spacingAndGlyphs" >ATOMIC &amp;</text>
<text x="395.6" y="191.3" font-size="7.2" font-weight="bold" font-style="normal" fill="#fff" stroke="#fff" stroke-width="0.25" textLength="38" lengthAdjust="spacingAndGlyphs" >MOLECULAR</text>
<text x="446.2" y="182.5" font-size="7.2" font-weight="bold" font-style="normal" fill="#fff" stroke="#fff" stroke-width="0.25" textLength="19.8" lengthAdjust="spacingAndGlyphs" >WARM</text>
<text x="443.8" y="191.3" font-size="7.2" font-weight="bold" font-style="normal" fill="#fff" stroke="#fff" stroke-width="0.25" textLength="24.8" lengthAdjust="spacingAndGlyphs" >IONISED</text>
<text x="490" y="186.7" font-size="7.2" font-weight="bold" font-style="normal" fill="#fff" stroke="#fff" stroke-width="0.25" textLength="39.6" lengthAdjust="spacingAndGlyphs" >HOT IONISED</text>
<text x="447.2" y="226.6" font-size="11.6" font-weight="normal" font-style="normal" fill="#1a1a1a" stroke="#1a1a1a" stroke-width="0.4" textLength="5.2" lengthAdjust="spacingAndGlyphs" >T</text>
<text x="453" y="230.6" font-size="11.4" font-weight="normal" font-style="normal" fill="#1a1a1a" stroke="#1a1a1a" stroke-width="0.4" textLength="14.4" lengthAdjust="spacingAndGlyphs" >gas</text>
<text x="472" y="226.6" font-size="11.6" font-weight="normal" font-style="normal" fill="#1a1a1a" stroke="#1a1a1a" stroke-width="0.4" textLength="13" lengthAdjust="spacingAndGlyphs" >(K)</text>
</svg>
</body></html>
